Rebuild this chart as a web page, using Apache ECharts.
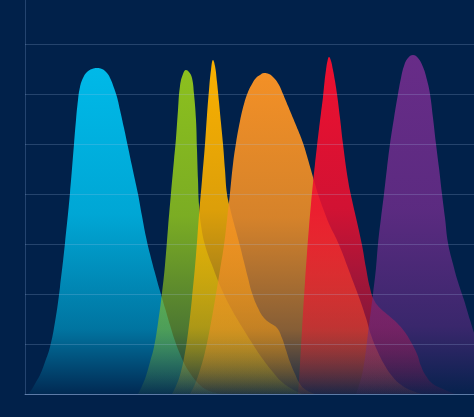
<!DOCTYPE html>
<html>
<head>
<meta charset="utf-8">
<script src="https://cdn.jsdelivr.net/npm/echarts@6/dist/echarts.min.js"></script>
<style>
html,body{margin:0;padding:0;background:#01214a;}
#c{width:474px;height:417px;}
</style>
</head>
<body>
<div id="c"></div>
<script>
// Series data: x positions and heights (axis units)
var cyanX = [3,7,11,15,20,25,30,35,40,45,49,51,53,55,58,62,67,72,77,82,86,89,92,95,99,103,107,110,113,117,121,125,130,135,140,145,150,155,160,165,170,175,180,187,197];
var cyanY = [0,5,12,19,32,47,72,107,151,201,250,274,294,307,316,322,325,326,325,321,314,306,297,284,266,247,228,214,200,178,157,140,121,103,86,69,53,40,29,21,14,9,5,2,0];

var greenX = [113,117,121,125,129,133,137,140,143,146,149,151,153,155,158,161,164,167,169,171,172,173,174,176,180,187,197,207,217,227,237,247,257,267,277];
var greenY = [0,8,18,32,47,71,101,129,166,201,234,256,284,308,320,324,322,316,300,274,244,214,189,169,149,129,104,84,67,51,36,23,12,5,0];

var yellowX = [147,151,155,159,163,167,171,174,177,180,182,184,186,188,190,192,194,196,198,200,202,205,208,211,215,219,223,227,233,239,245,252,257,261,265,270,275,281,290];
var yellowY = [0,8,19,36,61,96,139,179,214,250,279,304,324,334,328,312,292,271,250,224,200,186,174,163,148,132,116,101,86,76,71,66,56,44,32,20,10,4,0];

var orangeX = [165,170,175,180,185,190,195,199,202,205,208,211,215,219,223,227,231,235,239,244,249,254,258,263,268,273,278,282,286,290,294,299,305,311,317,323,329,335,341,346,352,359,367,375,385,397];
var orangeY = [0,10,24,42,66,94,124,149,174,201,230,251,273,290,302,310,316,319,321,320,316,309,300,288,276,264,251,238,224,210,197,183,168,156,142,126,110,94,76,59,44,30,18,10,4,0];

var redX = [273,274,275,276,277,278,280,282,284,286,288,290,292,294,296,298,299.5,301,302.5,304,306,308,310,312,315,318,323,327,332,337,341,345,349,355,363,371,379,386,392,396,401,408,418,430];
var redY = [0,14,30,47,64,81,112,141,167,190,211,230,248,265,281,297,312,324,333,337,333,324,313,300,276,250,214,194,172,149,126,106,94,86,79,72,63,52,40,28,18,10,5,0];

var purpleX = [331,335,338,341,343,346,348,351,353,356,359,362,365,369,373,376,379,383,388,393,398,402,405,408,411,414,417,420,423,428,433,439,445,451,460,475,495];
var purpleY = [0,12,24,44,61,84,100,126,150,176,200,226,250,276,300,316,328,336,339,336,327,314,300,276,250,226,200,176,151,130,112,94,74,56,36,16,0];

var seriesNames = ['cyan','green','yellow','orange','red','purple'];
var seriesColors = [[0,185,232],[140,192,30],[250,176,0],[243,144,38],[238,16,48],[104,44,136]];
var seriesX = [cyanX, greenX, yellowX, orangeX, redX, purpleX];
var seriesY = [cyanY, greenY, yellowY, orangeY, redY, purpleY];

function rgba(c, a){ return 'rgba(' + c[0] + ',' + c[1] + ',' + c[2] + ',' + a + ')'; }

var series = seriesNames.map(function(name, i){
  var xs = seriesX[i], ys = seriesY[i];
  var c = seriesColors[i];
  return {
    name: name,
    type: 'line',
    data: xs.map(function(x, k){ return [x, ys[k]]; }),
    smooth: 0.45,
    showSymbol: false,
    symbol: 'none',
    lineStyle: { width: 0 },
    areaStyle: {
      opacity: 1,
      color: new echarts.graphic.LinearGradient(0, 0, 0, 1, [
        { offset: 0, color: rgba(c, 1) },
        { offset: 0.45, color: rgba(c, 0.88) },
        { offset: 0.8, color: rgba(c, 0.55) },
        { offset: 1, color: rgba(c, 0.06) }
      ])
    },
    silent: true,
    animation: false
  };
});

var chart = echarts.init(document.getElementById('c'), null, { renderer: 'canvas' });
chart.setOption({
  backgroundColor: '#01214a',
  animation: false,
  grid: [
    { left: 25, right: 0, top: 44, bottom: 23 },
    { left: 25, right: 0, top: 0, bottom: 23 }
  ],
  xAxis: [
    {
      type: 'value', gridIndex: 0, min: 0, max: 449,
      axisLine: { show: true, lineStyle: { color: 'rgba(140,170,215,0.55)', width: 1 } },
      axisTick: { show: false }, axisLabel: { show: false }, splitLine: { show: false }, z: 5
    },
    {
      type: 'value', gridIndex: 1, min: 0, max: 449, show: false
    }
  ],
  yAxis: [
    {
      type: 'value', gridIndex: 0, min: 0, max: 350, interval: 50,
      axisLine: { show: false }, axisTick: { show: false }, axisLabel: { show: false },
      splitLine: { show: true, lineStyle: { color: 'rgba(170,195,235,0.22)', width: 1 } },
      z: 5
    },
    {
      type: 'value', gridIndex: 1, min: 0, max: 10,
      axisLine: { show: true, lineStyle: { color: 'rgba(120,150,200,0.3)', width: 1 } },
      axisTick: { show: false }, axisLabel: { show: false }, splitLine: { show: false }
    }
  ],
  series: series
});
</script>
</body>
</html>
